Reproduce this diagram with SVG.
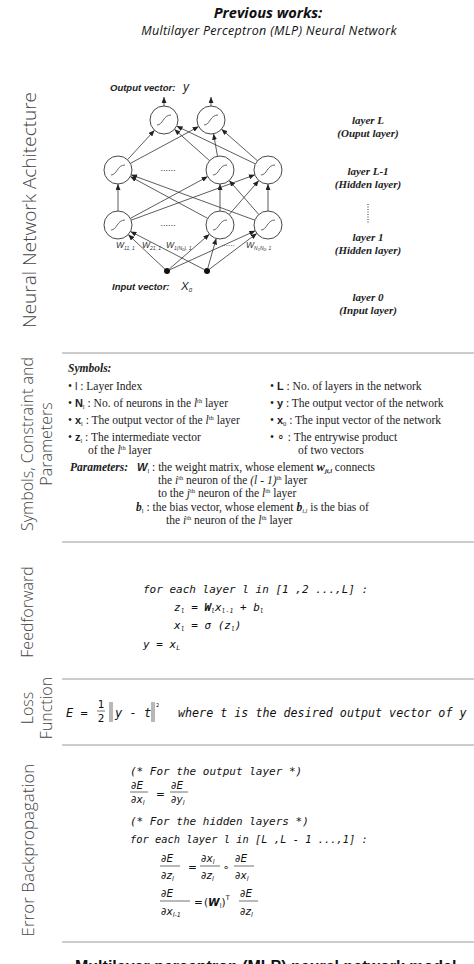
<svg xmlns="http://www.w3.org/2000/svg" width="474" height="964" viewBox="0 0 474 964">
<style>
.side{font-family:"Open Sans","Noto Sans",sans-serif;font-weight:300;font-size:16px;fill:#444;text-anchor:middle}
.sep{stroke:#9a9a9a;stroke-width:1}
.neuron{fill:#fff;stroke:#333;stroke-width:0.9}
.sig{fill:none;stroke:#555;stroke-width:0.9}
.edge{stroke:#333;stroke-width:0.8;fill:none;marker-end:url(#ah)}
.lay{font-family:"Liberation Serif",serif;font-weight:bold;font-style:italic;font-size:11px;fill:#222;text-anchor:middle}
.vec{font-family:"Liberation Sans",Arial,sans-serif;font-weight:bold;font-style:italic;font-size:9.5px;fill:#222}
.w{font-family:"Liberation Sans",Arial,sans-serif;font-style:italic;font-size:8.5px;fill:#333}
.ser{font-family:"Liberation Serif",serif;font-size:11.5px;fill:#222}
.sym{font-family:"Liberation Sans",Arial,sans-serif;font-weight:bold;font-size:11px}
.code{font-family:"DejaVu Sans Mono",monospace;font-style:italic;font-size:11px;fill:#111}
.m{font-family:"DejaVu Sans",sans-serif;font-style:italic;font-size:10.5px;fill:#111}
.sub{font-size:6.5px}
.bar{stroke:#333;stroke-width:0.7}
</style>
<defs>
<marker id="ah" markerUnits="userSpaceOnUse" markerWidth="6" markerHeight="5" refX="6" refY="2.5" orient="auto"><path d="M0,0 L6,2.5 L0,5 z" fill="#222"/></marker>
<path id="sg" d="M-7,5 C-1,5 -1,-5 7,-5"/>
</defs>

<g id="title">
<text x="268" y="18" font-family="Open Sans, Noto Sans, sans-serif" font-weight="bold" font-style="italic" font-size="14.6" text-anchor="middle" fill="#111">Previous works:</text>
<text x="269" y="35" font-family="Open Sans, Noto Sans, sans-serif" font-style="italic" font-size="12.5" letter-spacing="0.3" text-anchor="middle" fill="#111">Multilayer Perceptron (MLP) Neural Network</text>
</g>

<g id="side-labels">
<text class="side" style="font-size:19px" transform="translate(36,210) rotate(-90)">Neural Network Achitecture</text>
<text class="side" transform="translate(33,444) rotate(-90)">Symbols, Constraint and</text>
<text class="side" transform="translate(52,444) rotate(-90)">Parameters</text>
<text class="side" transform="translate(33,612) rotate(-90)">Feedforward</text>
<text class="side" transform="translate(33,708) rotate(-90)">Loss</text>
<text class="side" transform="translate(52,708) rotate(-90)">Function</text>
<text class="side" style="font-size:17px" transform="translate(34,850) rotate(-90)">Error Backpropagation</text>
</g>

<g id="separators">
<line class="sep" x1="62" y1="353" x2="474" y2="353"/>
<line class="sep" x1="62" y1="542" x2="474" y2="542"/>
<line class="sep" x1="62" y1="679" x2="474" y2="679"/>
<line class="sep" x1="62" y1="745" x2="474" y2="745"/>
<line class="sep" x1="62" y1="942" x2="474" y2="942"/>
</g>

<g id="connectors">
<line class="edge" x1="164" y1="106" x2="164" y2="97"/>
<line class="edge" x1="211" y1="106" x2="211" y2="97"/>
<line class="edge" x1="127.5" y1="159.7" x2="154.5" y2="130.3"/>
<line class="edge" x1="130.3" y1="163.4" x2="198.7" y2="126.6"/>
<line class="edge" x1="209.6" y1="160.7" x2="174.4" y2="129.3"/>
<line class="edge" x1="217.5" y1="156.2" x2="213.5" y2="133.8"/>
<line class="edge" x1="255.4" y1="163.9" x2="176.6" y2="126.1"/>
<line class="edge" x1="257.5" y1="160.8" x2="221.5" y2="129.2"/>
<line class="edge" x1="118" y1="211" x2="118" y2="184"/>
<line class="edge" x1="130.3" y1="218.4" x2="207.7" y2="176.6"/>
<line class="edge" x1="131.1" y1="220.2" x2="254.9" y2="174.8"/>
<line class="edge" x1="207.7" y1="218.4" x2="130.3" y2="176.6"/>
<line class="edge" x1="220" y1="211" x2="220" y2="184"/>
<line class="edge" x1="229.2" y1="214.5" x2="258.8" y2="180.5"/>
<line class="edge" x1="254.9" y1="220.2" x2="131.1" y2="174.8"/>
<line class="edge" x1="258.8" y1="214.5" x2="229.2" y2="180.5"/>
<line class="edge" x1="268" y1="211" x2="268" y2="184"/>
<line class="edge" x1="164.8" y1="269" x2="128.2" y2="234.6"/>
<line class="edge" x1="169.3" y1="269" x2="209.4" y2="234.2"/>
<line class="edge" x1="169.7" y1="269.8" x2="255.3" y2="230.8"/>
<line class="edge" x1="204.3" y1="269.6" x2="130.4" y2="231.4"/>
<line class="edge" x1="207.8" y1="268.1" x2="216.2" y2="238.5"/>
<line class="edge" x1="209.4" y1="269.2" x2="256.8" y2="233.4"/>
</g>

<g id="network">
<text class="vec" x="110" y="91">Output vector:</text>
<text x="183" y="91" font-family="Liberation Sans, Arial, sans-serif" font-style="italic" font-size="12" fill="#222">y</text>
<g id="n-o1"><circle class="neuron" cx="164" cy="120" r="14"/><use href="#sg" class="sig" x="164" y="120"/></g>
<g id="n-o2"><circle class="neuron" cx="211" cy="120" r="14"/><use href="#sg" class="sig" x="211" y="120"/></g>
<g id="n-a1"><circle class="neuron" cx="118" cy="170" r="14"/><use href="#sg" class="sig" x="118" y="170"/></g>
<g id="n-a2"><circle class="neuron" cx="220" cy="170" r="14"/><use href="#sg" class="sig" x="220" y="170"/></g>
<g id="n-a3"><circle class="neuron" cx="268" cy="170" r="14"/><use href="#sg" class="sig" x="268" y="170"/></g>
<g id="n-b1"><circle class="neuron" cx="118" cy="225" r="14"/><use href="#sg" class="sig" x="118" y="225"/></g>
<g id="n-b2"><circle class="neuron" cx="220" cy="225" r="14"/><use href="#sg" class="sig" x="220" y="225"/></g>
<g id="n-b3"><circle class="neuron" cx="268" cy="225" r="14"/><use href="#sg" class="sig" x="268" y="225"/></g>
<text x="168" y="171" font-family="Liberation Sans, sans-serif" font-size="9" text-anchor="middle" fill="#333">......</text>
<text x="168" y="226" font-family="Liberation Sans, sans-serif" font-size="9" text-anchor="middle" fill="#333">......</text>
<g id="n-i1"><circle cx="167" cy="271" r="3" fill="#111"/></g>
<g id="n-i2"><circle cx="207" cy="271" r="3" fill="#111"/></g>
<text class="w" x="116" y="248">W<tspan font-size="5" dy="1.5">11, 1</tspan></text>
<text class="w" x="142" y="248">W<tspan font-size="5" dy="1.5">21, 1</tspan></text>
<text class="w" x="166" y="248">W<tspan font-size="5" dy="1.5">1(N</tspan><tspan font-size="4" dy="1">0</tspan><tspan font-size="5" dy="-1">), 1</tspan></text>
<text x="228" y="246" font-family="Liberation Sans, sans-serif" font-size="8" text-anchor="middle" fill="#333">......</text>
<text class="w" x="246" y="248">W<tspan font-size="5" dy="1.5">N</tspan><tspan font-size="4" dy="1">1</tspan><tspan font-size="5" dy="-1">N</tspan><tspan font-size="4" dy="1">0</tspan><tspan font-size="5" dy="-1">, 1</tspan></text>
<text class="vec" x="112" y="290">Input vector:</text>
<text x="181" y="290" font-family="Liberation Sans, Arial, sans-serif" font-style="italic" font-size="11.5" fill="#222">X<tspan font-size="6" dy="2">0</tspan></text>
</g>

<g id="layer-labels">
<text class="lay" x="368" y="124">layer  L</text>
<text class="lay" x="368" y="137">(Ouput layer)</text>
<text class="lay" x="368" y="175">layer  L-1</text>
<text class="lay" x="368" y="188">(Hidden layer)</text>
<line x1="368" y1="204" x2="368" y2="224" stroke="#333" stroke-width="1" stroke-dasharray="1,1.5"/>
<text class="lay" x="368" y="241">layer  1</text>
<text class="lay" x="368" y="254">(Hidden layer)</text>
<text class="lay" x="368" y="301">layer  0</text>
<text class="lay" x="368" y="314">(Input layer)</text>
</g>

<g id="symbols">
<text class="ser" x="68" y="372" font-weight="bold" font-style="italic">Symbols:</text>
<text class="ser" x="68" y="390">• <tspan class="sym" style="font-weight:normal">l</tspan> : Layer Index</text>
<text class="ser" x="68" y="407">• <tspan class="sym">N</tspan><tspan class="sub" dy="2">l</tspan><tspan dy="-2"> : No. of neurons in the </tspan><tspan font-style="italic">l</tspan><tspan class="sub" dy="-4">th</tspan><tspan dy="4"> layer</tspan></text>
<text class="ser" x="68" y="424">• <tspan class="sym">x</tspan><tspan class="sub" dy="2">l</tspan><tspan dy="-2"> : The output vector of the </tspan><tspan font-style="italic">l</tspan><tspan class="sub" dy="-4">th</tspan><tspan dy="4"> layer</tspan></text>
<text class="ser" x="68" y="441">• <tspan class="sym">z</tspan><tspan class="sub" dy="2">l</tspan><tspan dy="-2"> : The intermediate vector</tspan></text>
<text class="ser" x="88" y="454">of the <tspan font-style="italic">l</tspan><tspan class="sub" dy="-4">th</tspan><tspan dy="4"> layer</tspan></text>
<text class="ser" x="270" y="390">• <tspan class="sym">L</tspan> : No. of layers in the network</text>
<text class="ser" x="270" y="407">• <tspan class="sym">y</tspan> : The output vector of the network</text>
<text class="ser" x="270" y="424">• <tspan class="sym">x</tspan><tspan class="sub" dy="2">0</tspan><tspan dy="-2"> : The input vector of the network</tspan></text>
<text class="ser" x="270" y="441">•  ∘  : The entrywise product</text>
<text class="ser" x="298" y="454">of two vectors</text>
</g>

<g id="parameters">
<text class="ser" x="70" y="471" font-weight="bold" font-style="italic">Parameters:</text>
<text class="ser" x="137" y="471"><tspan class="sym" font-style="italic">W</tspan><tspan class="sub" dy="2">l</tspan><tspan dy="-2"> : the weight matrix, whose element </tspan><tspan font-style="italic" font-weight="bold" font-size="12.5">w</tspan><tspan class="sub" font-style="italic" font-weight="bold" dy="2">ji,l</tspan><tspan dy="-2"> connects</tspan></text>
<text class="ser" x="158" y="484">the <tspan font-style="italic">i</tspan><tspan class="sub" dy="-4">th</tspan><tspan dy="4"> neuron of the </tspan><tspan font-style="italic">(l - 1)</tspan><tspan class="sub" dy="-4">th</tspan><tspan dy="4"> layer</tspan></text>
<text class="ser" x="158" y="497">to the <tspan font-style="italic">j</tspan><tspan class="sub" dy="-4">th</tspan><tspan dy="4"> neuron of the </tspan><tspan font-style="italic">l</tspan><tspan class="sub" dy="-4">th</tspan><tspan dy="4"> layer</tspan></text>
<text class="ser" x="136" y="511"><tspan font-style="italic" font-weight="bold">b</tspan><tspan class="sub" dy="2">l</tspan><tspan dy="-2"> : the bias vector, whose element </tspan><tspan font-style="italic" font-weight="bold">b</tspan><tspan class="sub" font-style="italic" dy="2">i,l</tspan><tspan dy="-2"> is the bias of</tspan></text>
<text class="ser" x="166" y="524">the <tspan font-style="italic">i</tspan><tspan class="sub" dy="-4">th</tspan><tspan dy="4"> neuron of the </tspan><tspan font-style="italic">l</tspan><tspan class="sub" dy="-4">th</tspan><tspan dy="4"> layer</tspan></text>
</g>

<g id="feedforward">
<text class="code" x="143" y="593">for each layer l in [1 ,2 ...,L] :</text>
<text class="code" x="174" y="611">z<tspan class="sub" dy="2">l</tspan><tspan dy="-2">  =  </tspan><tspan font-weight="bold">W</tspan><tspan class="sub" dy="2">l</tspan><tspan dy="-2">x</tspan><tspan class="sub" dy="2">l-1</tspan><tspan dy="-2">  + b</tspan><tspan class="sub" dy="2">l</tspan></text>
<text class="code" x="174" y="629">x<tspan class="sub" dy="2">l</tspan><tspan dy="-2">  = σ (z</tspan><tspan class="sub" dy="2">l</tspan><tspan dy="-2">)</tspan></text>
<text class="code" x="143" y="648">y  =  x<tspan class="sub" dy="2">L</tspan></text>
</g>

<g id="loss">
<text class="code" x="66" y="717" style="font-size:12px">E  =</text>
<text x="101" y="708" font-family="DejaVu Sans, sans-serif" font-size="10.5" text-anchor="middle" fill="#111">1</text>
<line class="bar" x1="97" y1="711" x2="105" y2="711"/>
<text x="101" y="722" font-family="DejaVu Sans, sans-serif" font-size="10.5" text-anchor="middle" fill="#111">2</text>
<line class="bar" x1="110" y1="702" x2="110" y2="722"/><line class="bar" x1="112" y1="702" x2="112" y2="722"/>
<text class="code" x="115" y="717" style="font-size:12px">y - t</text>
<line class="bar" x1="152" y1="702" x2="152" y2="722"/><line class="bar" x1="154" y1="702" x2="154" y2="722"/>
<text x="156" y="707" font-family="DejaVu Sans, sans-serif" font-size="5" fill="#111">2</text>
<text class="code" x="178" y="717" style="font-size:11.7px">where t is the desired output vector of y</text>
</g>

<g id="backprop">
<text class="code" x="130" y="775">(* For the output layer *)</text>
<text class="m" x="131" y="789">∂E</text><line class="bar" x1="130" y1="792" x2="148" y2="792"/><text class="m" x="131" y="803">∂x<tspan class="sub" dy="2">l</tspan></text>
<text class="m" x="156" y="798">=</text>
<text class="m" x="171" y="789">∂E</text><line class="bar" x1="170" y1="792" x2="188" y2="792"/><text class="m" x="171" y="803">∂y<tspan class="sub" dy="2">l</tspan></text>
<text class="code" x="130" y="825">(* For the hidden layers *)</text>
<text class="code" x="130" y="843" style="font-size:10.4px">for each layer l in [L ,L - 1 ...,1] :</text>
<text class="m" x="161" y="862">∂E</text><line class="bar" x1="160" y1="866" x2="180" y2="866"/><text class="m" x="161" y="879">∂z<tspan class="sub" dy="2">l</tspan></text>
<text class="m" x="188" y="871">=</text>
<text class="m" x="201" y="862">∂x<tspan class="sub" dy="2">l</tspan></text><line class="bar" x1="200" y1="866" x2="220" y2="866"/><text class="m" x="201" y="879">∂z<tspan class="sub" dy="2">l</tspan></text>
<text class="m" x="223" y="871" style="font-style:normal">∘</text>
<text class="m" x="235" y="862">∂E</text><line class="bar" x1="234" y1="866" x2="254" y2="866"/><text class="m" x="235" y="879">∂x<tspan class="sub" dy="2">l</tspan></text>
<text class="m" x="161" y="897">∂E</text><line class="bar" x1="160" y1="901" x2="190" y2="901"/><text class="m" x="161" y="915">∂x<tspan class="sub" dy="2">l-1</tspan></text>
<text class="m" x="194" y="906">=</text>
<text class="m" x="204" y="906" style="font-style:normal">(<tspan font-weight="bold" font-style="italic">W</tspan><tspan class="sub" dy="2">l</tspan><tspan dy="-2">)</tspan><tspan class="sub" dy="-6">T</tspan></text>
<text class="m" x="240" y="897">∂E</text><line class="bar" x1="239" y1="901" x2="258" y2="901"/><text class="m" x="240" y="915">∂z<tspan class="sub" dy="2">l</tspan></text>
</g>

<g id="footer">
<text x="75" y="972" font-family="Liberation Sans, Arial, sans-serif" font-weight="bold" font-size="16" fill="#111">Multilayer perceptron (MLP) neural network model</text>
</g>
</svg>
